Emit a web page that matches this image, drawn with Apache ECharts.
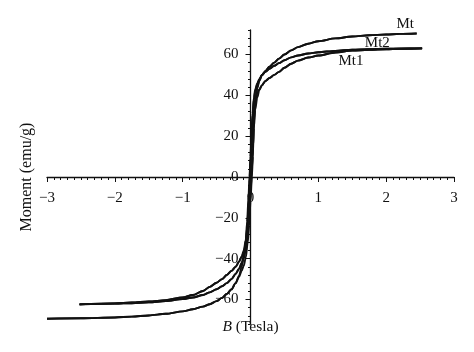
<!DOCTYPE html>
<html>
<head>
<meta charset="utf-8">
<script src="https://cdn.jsdelivr.net/npm/echarts@6/dist/echarts.min.js"></script>
<style>
  html, body { margin: 0; padding: 0; background: #fff; }
  #container { width: 474px; height: 352px; }
</style>
</head>
<body>
<div id="container"></div>
<script>
const xTicks = [-3, -2, -1, 0, 1, 2, 3]
const yTicks = [-60, -40, -20, 0, 20, 40, 60]

// Mt: descending branch, then ascending branch
const mtDownB = [2.45, 2.2, 2.0, 1.75, 1.5, 1.25, 1.0, 0.85, 0.7, 0.6, 0.5, 0.42, 0.35, 0.28, 0.22, 0.17, 0.13, 0.1, 0.07, 0.05, 0.03, 0.015, 0, -0.015, -0.03, -0.05, -0.07, -0.1, -0.13, -0.17, -0.22, -0.28, -0.35, -0.42, -0.5, -0.6, -0.7, -0.85, -1.0, -1.25, -1.5, -1.75, -2.0, -2.5, -3.0]
const mtDownM = [70.3, 70.1, 69.8, 69.4, 68.8, 67.9, 66.5, 65.3, 63.6, 62, 60, 58, 56, 54, 52, 50, 47.5, 45.5, 42, 38, 30, 22, 10, 0, -10, -22, -31, -39, -44, -48.5, -52, -55, -57.3, -59.2, -60.8, -62.3, -63.5, -64.8, -65.8, -67, -67.8, -68.4, -68.8, -69.2, -69.4]
const mtUpB = [-3.0, -2.5, -2.0, -1.75, -1.5, -1.25, -1.0, -0.85, -0.7, -0.6, -0.5, -0.42, -0.35, -0.28, -0.22, -0.17, -0.13, -0.1, -0.07, -0.04, -0.02, 0, 0.02, 0.035, 0.05, 0.07, 0.1, 0.13, 0.17, 0.22, 0.28, 0.35, 0.42, 0.5, 0.6, 0.7, 0.85, 1.0, 1.25, 1.5, 1.75, 2.0, 2.2, 2.45]
const mtUpM = [-69.4, -69.2, -68.8, -68.4, -67.8, -67, -65.8, -64.8, -63.5, -62.3, -60.8, -59.2, -57.3, -55, -52, -49, -46, -43.5, -39.5, -32, -24, -12, 0, 10, 28, 36, 43.5, 47, 50, 52, 54, 56, 58, 60, 62, 63.6, 65.3, 66.5, 67.9, 68.8, 69.4, 69.8, 70.1, 70.3]

// Mt1 and Mt2 share the field points
const mtxDownB = [2.53, 2.2, 2.0, 1.75, 1.5, 1.25, 1.0, 0.85, 0.7, 0.6, 0.5, 0.42, 0.35, 0.28, 0.22, 0.17, 0.13, 0.1, 0.07, 0.05, 0.03, 0.015, 0, -0.015, -0.03, -0.05, -0.07, -0.1, -0.13, -0.17, -0.22, -0.28, -0.35, -0.42, -0.5, -0.6, -0.7, -0.85, -1.0, -1.25, -1.5, -1.75, -2.0, -2.52]
const mtxUpB = [-2.52, -2.0, -1.75, -1.5, -1.25, -1.0, -0.85, -0.7, -0.6, -0.5, -0.42, -0.35, -0.28, -0.22, -0.17, -0.13, -0.1, -0.07, -0.04, -0.02, 0, 0.02, 0.035, 0.05, 0.07, 0.1, 0.13, 0.17, 0.22, 0.28, 0.35, 0.42, 0.5, 0.6, 0.7, 0.85, 1.0, 1.25, 1.5, 1.75, 2.0, 2.2, 2.53]

const mt2DownM = [63, 62.9, 62.8, 62.6, 62.3, 61.8, 61.1, 60.5, 59.5, 58.6, 57.2, 55.8, 54.5, 53, 51.5, 50, 48, 46, 43, 39, 31, 21, 9, -3, -14, -26, -33, -38.5, -42, -45, -47.5, -50, -52, -53.5, -55, -56.5, -57.8, -59, -59.8, -60.8, -61.4, -61.8, -62, -62.4]
const mt2UpM = [-62.4, -62, -61.8, -61.4, -60.8, -59.8, -59, -57.8, -56.5, -55, -53.5, -52, -50, -47.5, -45, -42.5, -40, -36, -29, -20, -9, 3, 14, 26, 37, 44, 47.5, 50, 51.5, 53, 54.5, 55.8, 57.2, 58.6, 59.5, 60.5, 61.1, 61.8, 62.3, 62.6, 62.8, 62.9, 63]

const mt1DownM = [63, 62.8, 62.6, 62.3, 61.9, 61, 59.5, 58.5, 57, 55.5, 53.5, 51.5, 50, 48.5, 47, 45, 43, 41, 38, 34, 26, 16, 5, -6, -16, -25, -31, -36, -39, -41.5, -44, -46, -48, -50, -51.8, -53.8, -55.8, -57.8, -59, -60.3, -61, -61.5, -61.9, -62.4]
const mt1UpM = [-62.4, -61.9, -61.5, -61, -60.3, -59, -57.8, -55.8, -53.8, -51.8, -50, -48, -46, -44, -41.5, -39, -37, -33, -26, -18, -8, 4, 14, 24, 33, 39, 42.5, 45, 47, 48.5, 50, 51.5, 53.5, 55.5, 57, 58.5, 59.5, 61, 61.9, 62.3, 62.6, 62.8, 63]

// curve names, placed in data units
const curveLabels = [
  { text: 'Mt', at: [2.28, 74.9] },
  { text: 'Mt2', at: [1.87, 65.8] },
  { text: 'Mt1', at: [1.48, 57] }
]

const font = '"Liberation Serif", "DejaVu Serif", serif'
const ink = '#111'
const pair = (b, m) => b.map((v, i) => [v, m[i]])
const minus = v => String(v).replace('-', '\u2212')

const branch = (b, m) => ({
  type: 'line',
  data: pair(b, m),
  showSymbol: false,
  smooth: 0.3,
  smoothMonotone: 'x',
  clip: false,
  lineStyle: { color: ink, width: 1.9 }
})

const L = 47, R = 20, T = 30, B = 28
const W = 474 - L - R
const zeroX = L + W / 2
const H = 352 - T - B

const hidden = { show: false }

const myChart = echarts.init(document.getElementById('container'))

const option = {
  backgroundColor: '#fff',
  animation: false,
  grid: [
    { left: L, right: R, top: T, bottom: B },        // curves
    { left: L, right: R, top: T, height: H / 2 },    // field axis on the zero line
    { left: zeroX, right: R, top: T, bottom: B }      // moment axis on B = 0
  ],
  xAxis: [
    { type: 'value', gridIndex: 0, min: -3, max: 3, ...hidden },
    {
      type: 'value',
      gridIndex: 1,
      position: 'bottom',
      min: xTicks[0],
      max: xTicks[xTicks.length - 1],
      interval: 1,
      axisLine: { lineStyle: { color: ink, width: 1.3 } },
      axisTick: { length: 5, lineStyle: { color: ink } },
      minorTick: { show: true, splitNumber: 10, length: 3, lineStyle: { color: ink } },
      splitLine: hidden,
      axisLabel: { margin: 14, color: ink, fontFamily: font, fontSize: 15, formatter: minus }
    },
    { type: 'value', gridIndex: 2, min: 0, max: 3, ...hidden }
  ],
  yAxis: [
    { type: 'value', gridIndex: 0, min: -72, max: 72, ...hidden },
    { type: 'value', gridIndex: 1, min: 0, max: 72, ...hidden },
    {
      type: 'value',
      gridIndex: 2,
      position: 'left',
      min: -72,
      max: 72,
      interval: 4,
      axisLine: { lineStyle: { color: ink, width: 1.3 } },
      axisTick: { length: 2.5, lineStyle: { color: ink } },
      splitLine: hidden,
      axisLabel: { show: false }
    },
    {
      type: 'value',
      gridIndex: 2,
      position: 'left',
      min: -72,
      max: 72,
      axisLine: { show: false },
      axisTick: { length: 5, customValues: yTicks, lineStyle: { color: ink } },
      splitLine: hidden,
      axisLabel: {
        customValues: yTicks,
        margin: 12,
        color: ink,
        fontFamily: font,
        fontSize: 15,
        formatter: minus
      }
    }
  ],
  series: [
    branch(mtDownB, mtDownM),
    branch(mtUpB, mtUpM),
    branch(mtxDownB, mt2DownM),
    branch(mtxUpB, mt2UpM),
    branch(mtxDownB, mt1DownM),
    branch(mtxUpB, mt1UpM)
  ]
}

myChart.setOption(option)

// texts: curve names from data coords, axis titles
const graphic = curveLabels.map(c => {
  const p = myChart.convertToPixel({ gridIndex: 0 }, c.at)
  return {
    type: 'text',
    x: p[0],
    y: p[1],
    style: { text: c.text, fill: ink, font: '15px ' + font, align: 'center', verticalAlign: 'middle' }
  }
})
graphic.push({
  type: 'text',
  x: zeroX,
  y: 327,
  style: {
    text: '{i|B} (Tesla)',
    fill: ink,
    font: '15.5px ' + font,
    align: 'center',
    verticalAlign: 'middle',
    rich: { i: { fontStyle: 'italic', fontFamily: font, fontSize: 15.5, fill: ink } }
  }
})
graphic.push({
  type: 'text',
  x: 27,
  y: T + H / 2,
  rotation: Math.PI / 2,
  style: { text: 'Moment (emu/g)', fill: ink, font: '16px ' + font, align: 'center', verticalAlign: 'middle' }
})
myChart.setOption({ graphic: graphic })
</script>
</body>
</html>
